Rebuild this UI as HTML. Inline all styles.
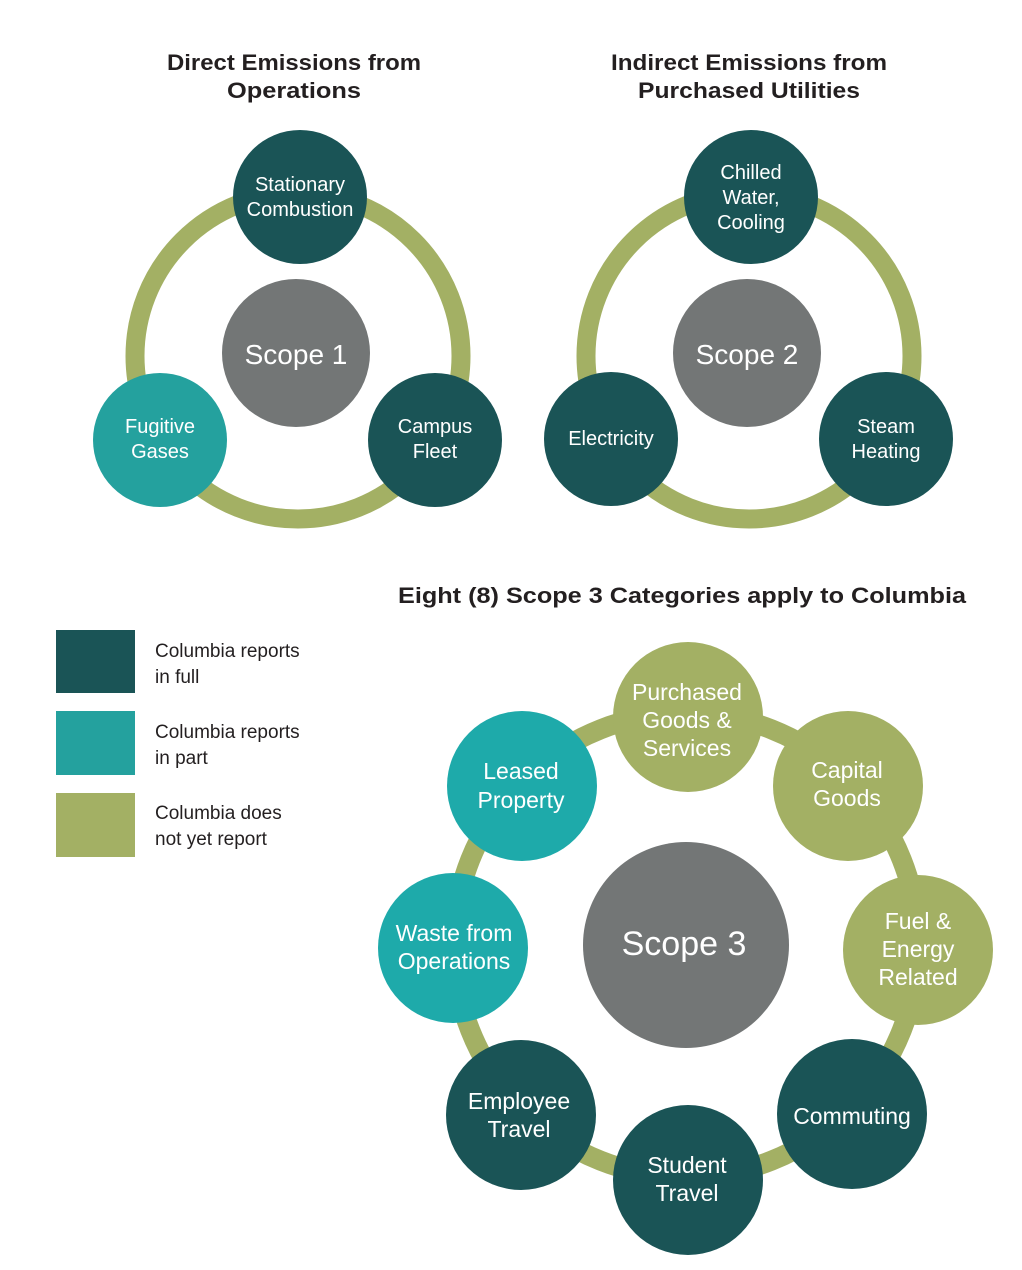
<!DOCTYPE html>
<html><head><meta charset="utf-8"><style>
html,body{margin:0;padding:0;background:#fff}
svg{display:block}
text{font-family:"Liberation Sans",sans-serif}
.t{font-weight:bold;font-size:22px;fill:#231f20;text-anchor:middle}
.w{fill:#fff;text-anchor:middle}
.l{fill:#231f20;font-size:19px}
</style></head><body>
<svg width="1022" height="1270" viewBox="0 0 1022 1270" xmlns="http://www.w3.org/2000/svg">
<text class="t" x="294" y="70" textLength="254" lengthAdjust="spacingAndGlyphs">Direct Emissions from</text>
<text class="t" x="294" y="98" textLength="134" lengthAdjust="spacingAndGlyphs">Operations</text>
<text class="t" x="749" y="70" textLength="276" lengthAdjust="spacingAndGlyphs">Indirect Emissions from</text>
<text class="t" x="749" y="98" textLength="222" lengthAdjust="spacingAndGlyphs">Purchased Utilities</text>
<text class="t" x="682" y="603" textLength="568" lengthAdjust="spacingAndGlyphs">Eight (8) Scope 3 Categories apply to Columbia</text>

<g style="font-size:20px">
<circle cx="298" cy="356" r="163" fill="none" stroke="#a3b064" stroke-width="19"/>
<circle cx="300" cy="197" r="67" fill="#1a5456"/>
<circle cx="296" cy="353" r="74" fill="#737676"/>
<circle cx="160" cy="440" r="67" fill="#24a19e"/>
<circle cx="435" cy="440" r="67" fill="#1a5456"/>
<text class="w" x="300" y="191">Stationary</text>
<text class="w" x="300" y="216">Combustion</text>
<text class="w" x="296" y="364" style="font-size:28px">Scope 1</text>
<text class="w" x="160" y="433">Fugitive</text>
<text class="w" x="160" y="458">Gases</text>
<text class="w" x="435" y="433">Campus</text>
<text class="w" x="435" y="458">Fleet</text>

<circle cx="749" cy="356" r="163" fill="none" stroke="#a3b064" stroke-width="19"/>
<circle cx="751" cy="197" r="67" fill="#1a5456"/>
<circle cx="747" cy="353" r="74" fill="#737676"/>
<circle cx="611" cy="439" r="67" fill="#1a5456"/>
<circle cx="886" cy="439" r="67" fill="#1a5456"/>
<text class="w" x="751" y="179">Chilled</text>
<text class="w" x="751" y="204">Water,</text>
<text class="w" x="751" y="229">Cooling</text>
<text class="w" x="747" y="364" style="font-size:28px">Scope 2</text>
<text class="w" x="611" y="445">Electricity</text>
<text class="w" x="886" y="433">Steam</text>
<text class="w" x="886" y="458">Heating</text>
</g>

<rect x="56" y="630" width="79" height="63" fill="#1a5456"/>
<rect x="56" y="711" width="79" height="64" fill="#24a19e"/>
<rect x="56" y="793" width="79" height="64" fill="#a3b064"/>
<text class="l" x="155" y="657">Columbia reports</text>
<text class="l" x="155" y="683">in full</text>
<text class="l" x="155" y="738">Columbia reports</text>
<text class="l" x="155" y="764">in part</text>
<text class="l" x="155" y="819">Columbia does</text>
<text class="l" x="155" y="845">not yet report</text>

<circle cx="686" cy="945" r="232" fill="none" stroke="#a3b064" stroke-width="20"/>
<circle cx="686" cy="945" r="103" fill="#737676"/>
<circle cx="688" cy="717" r="75" fill="#a3b064"/>
<circle cx="522" cy="786" r="75" fill="#1eaaaa"/>
<circle cx="848" cy="786" r="75" fill="#a3b064"/>
<circle cx="918" cy="950" r="75" fill="#a3b064"/>
<circle cx="453" cy="948" r="75" fill="#1eaaaa"/>
<circle cx="852" cy="1114" r="75" fill="#1a5456"/>
<circle cx="521" cy="1115" r="75" fill="#1a5456"/>
<circle cx="688" cy="1180" r="75" fill="#1a5456"/>
<g style="font-size:23px">
<text class="w" x="684" y="955" style="font-size:34px">Scope 3</text>
<text class="w" x="687" y="700">Purchased</text>
<text class="w" x="687" y="728">Goods &amp;</text>
<text class="w" x="687" y="756">Services</text>
<text class="w" x="521" y="779">Leased</text>
<text class="w" x="521" y="808">Property</text>
<text class="w" x="847" y="778">Capital</text>
<text class="w" x="847" y="806">Goods</text>
<text class="w" x="918" y="929">Fuel &amp;</text>
<text class="w" x="918" y="957">Energy</text>
<text class="w" x="918" y="985">Related</text>
<text class="w" x="454" y="941">Waste from</text>
<text class="w" x="454" y="969">Operations</text>
<text class="w" x="852" y="1124">Commuting</text>
<text class="w" x="519" y="1109">Employee</text>
<text class="w" x="519" y="1137">Travel</text>
<text class="w" x="687" y="1173">Student</text>
<text class="w" x="687" y="1201">Travel</text>
</g>
</svg>
</body></html>
